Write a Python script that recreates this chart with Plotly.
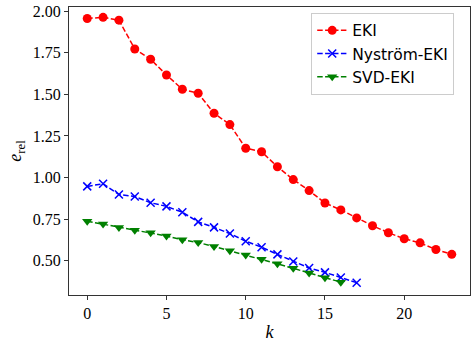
import plotly.graph_objects as go

# Relative error e_rel per iteration k for three ensemble Kalman inversion variants
k_eki = list(range(24))
e_eki = [1.955, 1.962, 1.945, 1.772, 1.710, 1.616, 1.530, 1.506, 1.386, 1.318,
         1.176, 1.155, 1.065, 0.988, 0.922, 0.847, 0.806, 0.758, 0.711, 0.669,
         0.633, 0.608, 0.568, 0.539]

k_nys = list(range(18))
e_nys = [0.947, 0.963, 0.898, 0.886, 0.849, 0.827, 0.792, 0.734, 0.701, 0.664,
         0.618, 0.582, 0.539, 0.496, 0.457, 0.431, 0.400, 0.369]

k_svd = list(range(17))
e_svd = [0.738, 0.721, 0.700, 0.684, 0.668, 0.649, 0.627, 0.610, 0.586, 0.561,
         0.535, 0.510, 0.482, 0.455, 0.427, 0.398, 0.372]

x_ticks = [0, 5, 10, 15, 20]
y_ticks = [0.50, 0.75, 1.00, 1.25, 1.50, 1.75, 2.00]

dash = "5.5px,2.4px"
fig = go.Figure()
fig.add_trace(go.Scatter(
    x=k_eki, y=e_eki, name="EKI", mode="lines+markers",
    line=dict(color="#ff0000", width=1.5, dash=dash),
    marker=dict(symbol="circle", size=9, color="#ff0000"),
))
fig.add_trace(go.Scatter(
    x=k_nys, y=e_nys, name="Nyström-EKI", mode="lines+markers",
    line=dict(color="#0000ff", width=1.5, dash=dash),
    marker=dict(symbol="x-thin", size=8, line=dict(color="#0000ff", width=1.5)),
))
fig.add_trace(go.Scatter(
    x=k_svd, y=e_svd, name="SVD-EKI", mode="lines+markers",
    line=dict(color="#008000", width=1.5, dash=dash),
    marker=dict(symbol="triangle-down", size=9, color="#008000"),
))

serif = "Liberation Serif, DejaVu Serif, serif"
tick_font = dict(family=serif, size=16, color="black")
title_font = dict(family=serif, size=18, color="black")
axis_common = dict(
    showline=True, linecolor="#333333", linewidth=1, mirror=True,
    ticks="outside", ticklen=4, tickcolor="#333333", tickwidth=1,
    showgrid=False, zeroline=False, tickfont=tick_font,
)
fig.update_xaxes(
    range=[-1.15, 24.15], tickvals=x_ticks, ticktext=[str(v) for v in x_ticks],
    title=dict(text="<i>k</i>", font=title_font, standoff=4),
    **axis_common,
)
fig.update_yaxes(
    range=[0.295, 2.024], tickvals=y_ticks, ticktext=[f"{v:.2f}" for v in y_ticks],
    title=dict(text="<i>e</i><sub>rel</sub>", font=title_font, standoff=6),
    **axis_common,
)
fig.update_layout(
    width=474, height=342,
    margin=dict(l=69, r=3, t=6, b=41),
    plot_bgcolor="white", paper_bgcolor="white",
    legend=dict(
        x=0.604, y=0.98, xanchor="left", yanchor="top",
        bgcolor="rgba(255,255,255,0.8)", bordercolor="#cccccc", borderwidth=1,
        font=dict(family="DejaVu Sans, sans-serif", size=15.5, color="black"),
        itemwidth=30, tracegroupgap=0,
    ),
)

fig.write_html("out.html")
